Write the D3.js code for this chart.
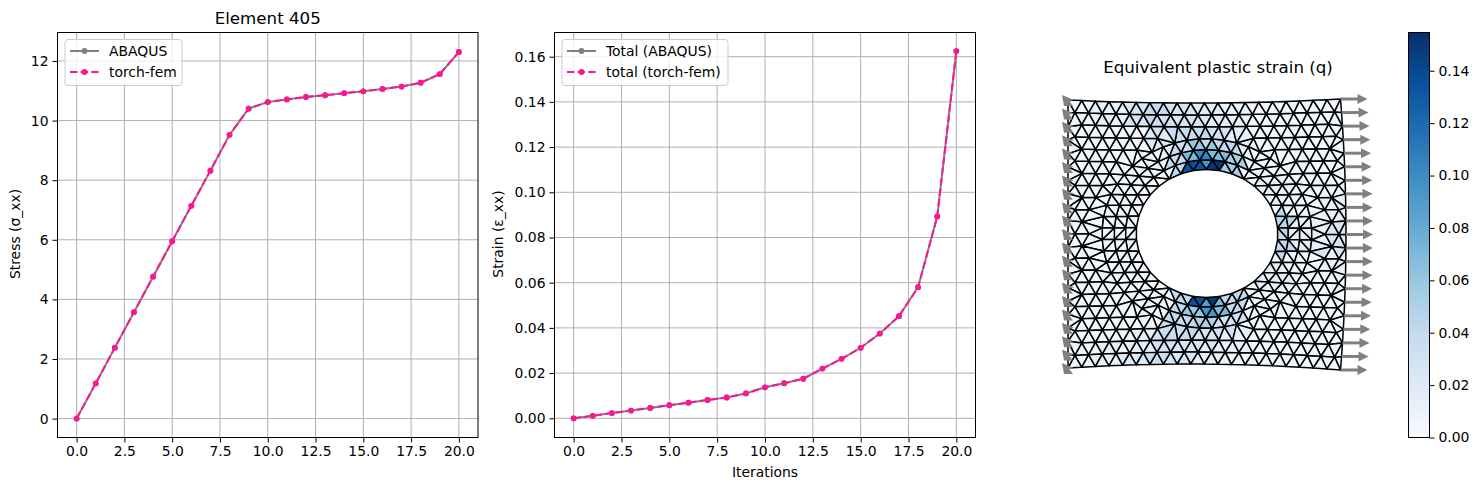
<!DOCTYPE html>
<html><head><meta charset="utf-8">
<script src="https://cdn.jsdelivr.net/npm/d3@7"></script>
<style>
html,body{margin:0;padding:0;background:#fff}
svg{display:block}
text{font-family:"DejaVu Sans",sans-serif;fill:#000}
</style></head><body>
<svg id="chart" width="1479" height="490"></svg>
<script>
// ---------- data ----------
const iterations = [0,1,2,3,4,5,6,7,8,9,10,11,12,13,14,15,16,17,18,19,20];
const stressAbaqus = [0,1.18,2.38,3.57,4.76,5.95,7.14,8.32,9.52,10.4,10.62,10.71,10.79,10.85,10.92,10.98,11.06,11.14,11.27,11.56,12.3];
const stressTorch  = [0,1.18,2.38,3.57,4.76,5.95,7.14,8.32,9.52,10.4,10.62,10.71,10.79,10.85,10.92,10.98,11.06,11.14,11.27,11.56,12.3];
const strainAbaqus = [0,.0011,.0023,.0034,.0046,.0058,.0069,.0081,.0092,.011,.0137,.0155,.0175,.022,.0263,.0312,.0375,.0452,.058,.0893,.1625];
const strainTorch  = [0,.0011,.0023,.0034,.0046,.0058,.0069,.0081,.0092,.011,.0137,.0155,.0175,.022,.0263,.0312,.0375,.0452,.058,.0893,.1625];
const xTickValues = [0,2.5,5,7.5,10,12.5,15,17.5,20];
const stressTicks = [0,2,4,6,8,10,12];
const strainTicks = [0,.02,.04,.06,.08,.1,.12,.14,.16];
const colorbarTicks = [0,.02,.04,.06,.08,.1,.12,.14];
const stressLegend = ["ABAQUS","torch-fem"];
const strainLegend = ["Total (ABAQUS)","total (torch-fem)"];
const blues = ["#f7fbff","#deebf7","#c6dbef","#9ecae1","#6baed6","#4292c6","#2171b5","#08519c","#08306b"];
const qMax = 0.1546;
// plate mesh, in lattice units (columns 0-20, rows 0-22)
const latticeCols = [0,1,2,3,4,5,6,7,8,9,10,11,12,13,14,15,16,17,18,19,20];
const latticeRows = [0,1,2,3,4,5,6,7,8,9,10,11,12,13,14,15,16,17,18,19,20,21,22];
const edgeStations = [0,1,2,3,4,5,6,7,8,9,10,11,12,13,14,15,16,17,18,19,20];
const holeCentre = [10.0,11.0], holeRadii = [5.1,5.4];
const ringScales = [1,1.15,1.31,1.48], ringCounts = [34,40,46,52], ringPhase = [0,.5,0,.5];
// equivalent plastic strain: [column, row, q]
const strainSamples = [
 [9.17,5.25,.135],[10.7,5.25,.15],[9.9,5.1,.095],[9.9,4.35,.105],[8.95,4.4,.07],[10.9,4.4,.07],
 [8.45,4.85,.04],[11.5,5,.055],[9.4,3.6,.06],[10.4,3.6,.06],[9.9,3.2,.04],[8.45,3.7,.035],[11.3,3.7,.04],
 [8,2.5,.035],[9.5,2.5,.035],[11,2.5,.03],[12.3,3,.015],[7,3,.02],[6.5,.6,.04],[5,.6,.025],[8,.8,.025],[10,.8,.018],
 [7,1.7,.03],[9,1.7,.028],[11,1.7,.018],[3,.7,.012],[12,.8,.01],
 [9.4,16.75,.135],[10.5,16.75,.15],[9.95,16.65,.09],[9.95,17.7,.095],[9.2,17.6,.06],[11,17.2,.07],[8.7,16.8,.04],[11.7,16.8,.04],
 [8.5,18.5,.04],[10,18.5,.05],[11.5,18.5,.03],[8,19.5,.035],[10,19.5,.025],[7,20.5,.03],[9,20.5,.025],[5.5,20.5,.015],
 [6.5,21.5,.035],[5,21.5,.02],[8,21.5,.025],[10.5,21.5,.012],[3,21.5,.012],[12,20,.012],
 [15.4,10.4,.045],[15.4,11.5,.04],[16.5,11,.015],[19.3,10.5,.025],[19.3,11.8,.025],[18.3,11.1,.012],[14.8,7.5,.012],[14.8,14.5,.015],[19.4,9,.012],[19.4,13.3,.012]
];
const baseStrain = 0.005;

// ---------- layout ----------
const svg = d3.select("#chart");
const fmt1 = d3.format(".1f"), fmt2 = d3.format(".2f");
const xDomain = [-1,21];
const gray = "#808080", pink = "#ff1493";
const tickFont = "13.9px";

function linePanel(cfg){
  const {left,right,top,bottom} = cfg.box;
  const x = d3.scaleLinear().domain(xDomain).range([left,right]);
  const y = d3.scaleLinear().domain(cfg.yDomain).range([bottom,top]);
  const g = svg.append("g");
  const grid = g.append("g").attr("stroke","#b0b0b0").attr("stroke-width",1);
  grid.selectAll("line.v").data(xTickValues).join("line").attr("class","v")
    .attr("x1",d=>x(d)).attr("x2",d=>x(d)).attr("y1",top).attr("y2",bottom);
  grid.selectAll("line.h").data(cfg.yTicks).join("line").attr("class","h")
    .attr("y1",d=>y(d)).attr("y2",d=>y(d)).attr("x1",left).attr("x2",right);
  const line = d3.line().x((d,i)=>x(iterations[i])).y(d=>y(d));
  function series(vals,color,dash){
    g.append("path").datum(vals).attr("d",line).attr("fill","none").attr("stroke",color)
      .attr("stroke-width",2).attr("stroke-dasharray",dash||null);
    g.append("g").selectAll("circle").data(vals).join("circle")
      .attr("cx",(d,i)=>x(iterations[i])).attr("cy",d=>y(d)).attr("r",2.9).attr("fill",color);
  }
  series(cfg.a,gray);
  series(cfg.b,pink,"7.4,3.2");
  g.append("rect").attr("x",left).attr("y",top).attr("width",right-left).attr("height",bottom-top)
    .attr("fill","none").attr("stroke","#000").attr("stroke-width",1);
  const ax = g.append("g").attr("transform",`translate(0,${bottom})`)
    .call(d3.axisBottom(x).tickValues(xTickValues).tickFormat(fmt1).tickSize(5).tickPadding(4));
  const ay = g.append("g").attr("transform",`translate(${left},0)`)
    .call(d3.axisLeft(y).tickValues(cfg.yTicks).tickFormat(cfg.yFormat).tickSize(5).tickPadding(4));
  [ax,ay].forEach(a=>{a.select(".domain").remove();a.selectAll("text").style("font-size",tickFont).style("font-family",'"DejaVu Sans"');a.selectAll("line").attr("stroke","#000");});
  g.append("text").attr("transform",`translate(${cfg.yLabelX},234) rotate(-90)`).attr("text-anchor","middle")
    .style("font-size",tickFont).text(cfg.yLabel);
  if(cfg.xLabel) g.append("text").attr("x",(left+right)/2).attr("y",477).attr("text-anchor","middle").style("font-size",tickFont).text(cfg.xLabel);
  if(cfg.title) g.append("text").attr("x",(left+right)/2).attr("y",24).attr("text-anchor","middle").style("font-size","16.67px").text(cfg.title);
  // legend
  const lg = g.append("g").attr("transform",`translate(${left+7.5},39.5)`);
  lg.append("rect").attr("width",cfg.legendW).attr("height",46).attr("rx",3)
    .attr("fill","#fff").attr("fill-opacity",.8).attr("stroke","#ccc");
  cfg.legend.forEach((t,i)=>{
    const yy = 11.5+21*i, c = i? pink:gray;
    lg.append("line").attr("x1",5).attr("x2",34).attr("y1",yy).attr("y2",yy).attr("stroke",c).attr("stroke-width",2).attr("stroke-dasharray",i?"7.4,3.2":null);
    lg.append("circle").attr("cx",19.5).attr("cy",yy).attr("r",2.9).attr("fill",c);
    lg.append("text").attr("x",44).attr("y",yy+4.8).style("font-size",tickFont).text(t);
  });
}

linePanel({box:{left:57.5,right:478,top:32.5,bottom:437.5},yDomain:[-.635,12.955],yTicks:stressTicks,yFormat:d3.format("d"),
  a:stressAbaqus,b:stressTorch,yLabel:"Stress (σ_xx)",yLabelX:20,title:"Element 405",legend:stressLegend,legendW:117});
linePanel({box:{left:554.5,right:975.5,top:32.5,bottom:437.5},yDomain:[-.0085,.1707],yTicks:strainTicks,yFormat:fmt2,
  a:strainAbaqus,b:strainTorch,yLabel:"Strain (ε_xx)",yLabelX:503,xLabel:"Iterations",legend:strainLegend,legendW:166});

// ---------- mesh panel ----------
const color = d3.scaleLinear().domain(blues.map((_,i)=>i/(blues.length-1)*qMax)).range(blues).interpolate(d3.interpolateRgb);
const mx = d3.scaleLinear().domain([0,20]).range([1068,1345]);
const my = d3.scaleLinear().domain([0,22]).range([102,366]);
const sNorm = d3.scaleLinear().domain([0,22]).range([0,1]);
const tNorm = d3.scaleLinear().domain([0,20]).range([0,1]);
function warp([c,r]){
  const t=tNorm(c), s=sNorm(r);
  const yTop = d3.interpolateNumber(100,99)(t)+4*t*(1-t)*3.5;
  const yBot = d3.interpolateNumber(368,370)(t)-4*t*(1-t)*5;
  const xRight = 1340.5+4*s*(1-s)*5.5;
  return [d3.interpolateNumber(1068,xRight)(t), d3.interpolateNumber(yTop,yBot)(s)];
}
const holeNorm = (c,r)=>Math.hypot((c-holeCentre[0])/holeRadii[0],(r-holeCentre[1])/holeRadii[1]);
let nodes=[];
latticeRows.forEach(r=>{
  const outer = r===0||r===22, odd = r%2===1;
  latticeCols.forEach(c=>{
    if(outer){ nodes.push([c,r]); return; }
    const cc = odd? c+.5 : c;
    if(cc<=.4||cc>=19.6) return;
    if(holeNorm(cc,r)<1.62) return;
    nodes.push([cc,r]);
  });
});
edgeStations.slice(1,-1).forEach(k=>{ nodes.push([0,k*22/20]); nodes.push([20,k*22/20]); });
ringScales.forEach((sc,ri)=>{
  d3.range(ringCounts[ri]).forEach(i=>{
    const th=-Math.PI/2+(i+ringPhase[ri])/ringCounts[ri]*2*Math.PI;
    nodes.push([holeCentre[0]+sc*holeRadii[0]*Math.cos(th),holeCentre[1]+sc*holeRadii[1]*Math.sin(th)]);
  });
});
const del = d3.Delaunay.from(nodes,d=>mx(d[0]),d=>my(d[1]));
const tris=[];
for(let i=0;i<del.triangles.length;i+=3){
  const p=[nodes[del.triangles[i]],nodes[del.triangles[i+1]],nodes[del.triangles[i+2]]];
  const cc=d3.mean(p,d=>d[0]), cr=d3.mean(p,d=>d[1]);
  if(holeNorm(cc,cr)<1) continue;
  const area=Math.abs((p[1][0]-p[0][0])*(p[2][1]-p[0][1])-(p[2][0]-p[0][0])*(p[1][1]-p[0][1]));
  if(area<.02) continue;
  const nearest=d3.least(strainSamples,d=>Math.hypot(d[0]-cc,(d[1]-cr)));
  const dist=Math.hypot(nearest[0]-cc,nearest[1]-cr);
  tris.push({p,q:dist<1.3?nearest[2]:baseStrain});
}
const mesh=svg.append("g");
const poly=d3.line().x(d=>d[0]).y(d=>d[1]).curve(d3.curveLinearClosed);
mesh.selectAll("path").data(tris).join("path")
  .attr("d",d=>poly(d.p.map(warp))).attr("fill",d=>color(d.q))
  .attr("stroke","#000").attr("stroke-width",1.5).attr("stroke-linejoin","round");
svg.append("text").attr("x",1218).attr("y",73).attr("text-anchor","middle").style("font-size","16.67px").text("Equivalent plastic strain (q)");

// boundary conditions
const bc=svg.append("g").attr("fill","#808080");
edgeStations.forEach(k=>{
  const r=k*22/20;
  const [lx,ly]=warp([0,r]);
  const m=d3.path();
  m.moveTo(lx-6,ly-5);m.lineTo(lx+6,ly);m.lineTo(lx+1,ly+1);m.lineTo(lx+5,ly+6);m.lineTo(lx-4,ly+6);m.closePath();
  bc.append("path").attr("d",m.toString());
  const [ex,ey]=warp([20,r]);
  bc.append("rect").attr("x",ex).attr("y",ey-1.5).attr("width",18).attr("height",3);
  const h=d3.path();
  h.moveTo(ex+17,ey-5);h.lineTo(ex+27,ey);h.lineTo(ex+17,ey+5);h.closePath();
  bc.append("path").attr("d",h.toString());
});

// colourbar
const cbX=1408.5,cbW=21,cbTop=32.5,cbBot=437.5;
const cy=d3.scaleLinear().domain([0,qMax]).range([cbBot,cbTop]);
const defs=svg.append("defs");
const grad=defs.append("linearGradient").attr("id","cb").attr("x1",0).attr("x2",0).attr("y1",1).attr("y2",0);
blues.forEach((c,i)=>grad.append("stop").attr("offset",i/(blues.length-1)).attr("stop-color",c));
svg.append("rect").attr("x",cbX).attr("y",cbTop).attr("width",cbW).attr("height",cbBot-cbTop).attr("fill","url(#cb)").attr("stroke","#000");
const cbAxis=svg.append("g").attr("transform",`translate(${cbX+cbW},0)`)
  .call(d3.axisRight(cy).tickValues(colorbarTicks).tickFormat(fmt2).tickSize(5).tickPadding(4));
cbAxis.select(".domain").remove();
cbAxis.selectAll("text").style("font-size",tickFont).style("font-family",'"DejaVu Sans"');
cbAxis.selectAll("line").attr("stroke","#000");
</script></body></html>
